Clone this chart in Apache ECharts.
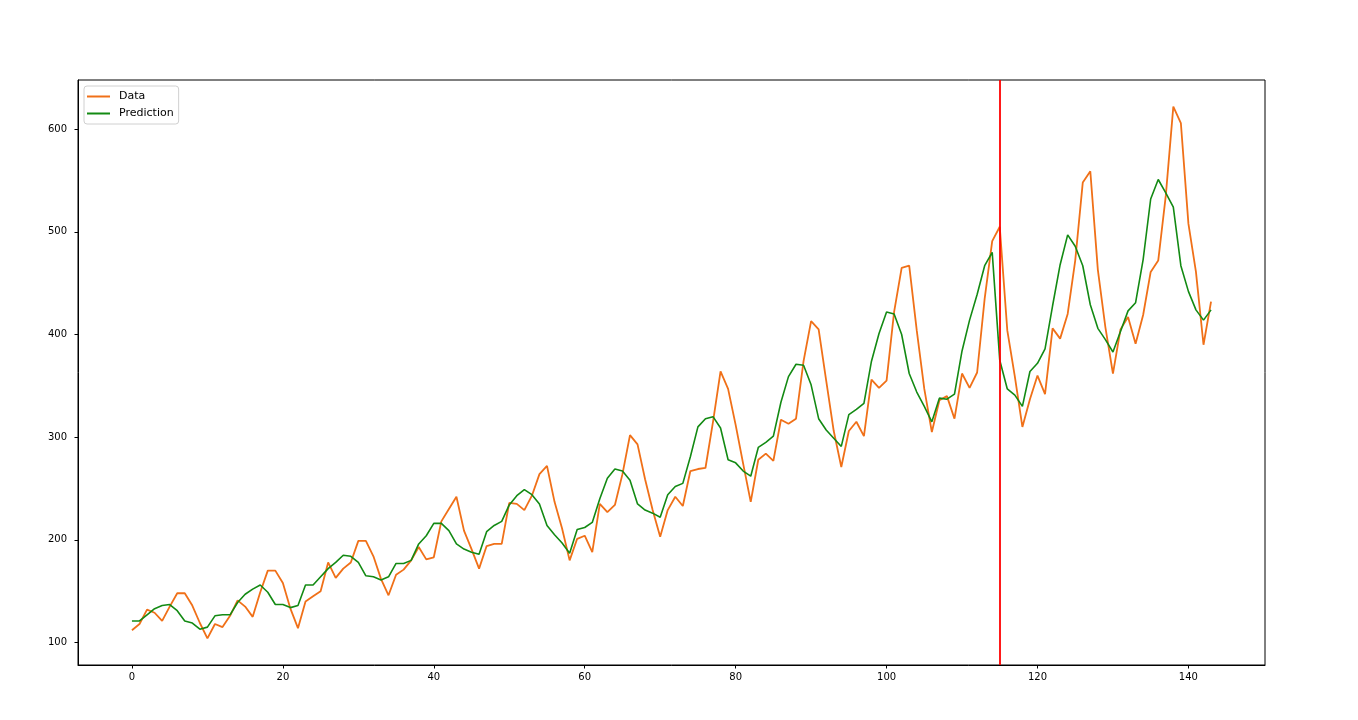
<!DOCTYPE html>
<html>
<head>
<meta charset="utf-8">
<script src="https://cdn.jsdelivr.net/npm/echarts@6/dist/echarts.min.js"></script>
<style>
html,body{margin:0;padding:0;background:#fff;}
#chart{width:1358px;height:720px;}
</style>
</head>
<body>
<div id="chart"></div>
<script>
const dataValues = [
112,118,132,129,121,135,148,148,136,119,104,118,
115,126,141,135,125,149,170,170,158,133,114,140,
145,150,178,163,172,178,199,199,184,162,146,166,
171,180,193,181,183,218,230,242,209,191,172,194,
196,196,236,235,229,243,264,272,237,211,180,201,
204,188,235,227,234,264,302,293,259,229,203,229,
242,233,267,269,270,315,364,347,312,274,237,278,
284,277,317,313,318,374,413,405,355,306,271,306,
315,301,356,348,355,422,465,467,404,347,305,336,
340,318,362,348,363,435,491,505,404,359,310,337,
360,342,406,396,420,472,548,559,463,407,362,405,
417,391,419,461,472,535,622,606,508,461,390,432
];
const predictionValues = [
121,121,127,133,136,137,131,121,119,113,115,126,
127,127,139,147,152,156,149,137,137,134,136,156,
156,164,172,178,185,184,178,165,164,161,164,177,
177,180,196,204,216,216,209,196,191,188,186,208,
214,218,234,243,249,244,235,214,205,197,187,210,
212,217,240,260,269,267,258,235,229,226,222,244,
252,255,281,310,318,320,309,278,275,267,262,290,
295,301,334,359,371,370,351,318,307,299,291,322,
327,333,374,401,422,420,400,362,344,330,315,338,
337,342,384,414,439,467,480,375,347,341,330,364,
372,386,428,468,497,486,467,429,406,395,383,403,
423,431,473,532,551,538,524,467,442,424,414,424
];
const xTicks = [0,20,40,60,80,100,120,140];
const yTicks = [100,200,300,400,500,600];
const splitIndex = 115;
const seriesNames = ['Data','Prediction'];

const dataColor = '#f07018';
const predColor = '#138a13';

const chart = echarts.init(document.getElementById('chart'), null, {renderer:'canvas'});
const font = 'DejaVu Sans';
chart.setOption({
  animation:false,
  backgroundColor:'#fff',
  textStyle:{fontFamily:font},
  grid:{left:78,right:93,top:80,bottom:55,show:true,borderColor:'#000',borderWidth:1,backgroundColor:'transparent'},
  legend:{
    left:84, top:86, orient:'vertical',
    data:seriesNames.map((n,i)=>({name:n, icon:'rect', itemStyle:{color:i?predColor:dataColor}})),
    itemWidth:23, itemHeight:2, itemGap:6,
    padding:[5,5,5,3],
    borderColor:'#d0d0d0', borderWidth:1, borderRadius:3,
    backgroundColor:'rgba(255,255,255,0.8)',
    textStyle:{fontFamily:font,fontSize:11,color:'#000',padding:[0,0,0,4]}
  },
  xAxis:{
    type:'value', min:-7.15, max:150.15,
    axisLine:{show:true,onZero:false,lineStyle:{color:'#000',width:1}},
    axisTick:{show:true,length:3.5,customValues:xTicks,lineStyle:{color:'#000'}},
    axisLabel:{customValues:xTicks,color:'#000',fontSize:10,fontFamily:font,margin:7},
    splitLine:{show:false}
  },
  yAxis:{
    type:'value', min:78.1, max:647.9,
    axisLine:{show:true,onZero:false,lineStyle:{color:'#000',width:1}},
    axisTick:{show:true,length:3.5,customValues:yTicks,lineStyle:{color:'#000'}},
    axisLabel:{customValues:yTicks,color:'#000',fontSize:10,fontFamily:font,margin:11},
    splitLine:{show:false}
  },
  series:[
    {
      name:seriesNames[0], type:'line', showSymbol:false, symbol:'none',
      data:dataValues.map((v,i)=>[i,v]),
      lineStyle:{color:dataColor,width:1.8}, itemStyle:{color:dataColor}, z:2
    },
    {
      name:seriesNames[1], type:'line', showSymbol:false, symbol:'none',
      data:predictionValues.map((v,i)=>[i,v]),
      lineStyle:{color:predColor,width:1.6}, itemStyle:{color:predColor}, z:3,
      markLine:{
        silent:true, symbol:'none', animation:false,
        label:{show:false},
        lineStyle:{color:'#ff0000',width:1.8,type:'solid'},
        data:[{xAxis:splitIndex}]
      }
    }
  ]
});
</script>
</body>
</html>
